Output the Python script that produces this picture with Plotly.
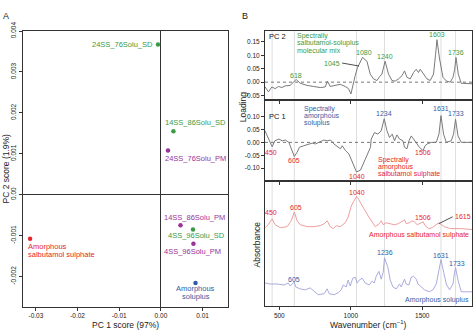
import plotly.graph_objects as go

# ---------------- Panel A data (PCA scores) ----------------
sample_names = ["24SS_76Solu_SD", "14SS_86Solu_SD", "24SS_76Solu_PM", "14SS_86Solu_PM",
                "4SS_96Solu_SD", "4SS_96Solu_PM", "Amorphous salbutamol sulphate", "Amorphous soluplus"]
pc1_scores = [-0.0007, 0.0030, 0.0017, 0.0047, 0.0077, 0.0078, -0.0314, 0.0083]
pc2_scores = [0.00367, 0.00155, 0.00108, -0.00075, -0.00085, -0.00120, -0.00108, -0.00216]
sample_groups = ["SD", "SD", "PM", "PM", "SD", "PM", "SS", "SOLU"]

# ---------------- Panel B data ----------------
pc2_wn = [401, 424, 448, 471, 494, 518, 541, 576, 599, 618, 646, 693, 739, 786, 821, 837, 856, 891, 926,
          961, 984, 1001, 1019, 1031, 1047, 1066, 1082, 1113, 1136, 1159, 1183, 1201, 1218, 1240, 1264,
          1288, 1311, 1334, 1358, 1376, 1393, 1416, 1439, 1458, 1474, 1486, 1509, 1533, 1556, 1579, 1593,
          1603, 1620, 1645, 1670, 1696, 1715, 1727, 1736, 1752, 1772, 1813, 1850]
pc2_load = [-0.018, -0.036, -0.018, -0.024, -0.016, -0.020, -0.014, -0.012, 0.000, 0.010, -0.004, -0.012,
            -0.016, -0.020, -0.018, 0.004, -0.016, -0.012, -0.008, -0.016, -0.024, -0.044, 0.000, 0.024,
            0.054, 0.072, 0.092, 0.078, 0.030, 0.012, 0.006, 0.020, 0.030, 0.078, 0.030, 0.006, 0.004,
            0.012, 0.024, 0.042, 0.018, 0.012, 0.036, 0.048, 0.036, 0.048, 0.030, 0.012, 0.006, 0.030,
            0.102, 0.158, 0.090, 0.018, 0.004, 0.000, 0.018, 0.048, 0.092, 0.030, -0.004, -0.006, -0.006]

pc1_wn = [400, 415, 431, 450, 469, 497, 520, 543, 567, 590, 605, 625, 641, 672, 707, 730, 753, 788, 812,
          835, 858, 882, 905, 928, 940, 963, 987, 1005, 1022, 1033, 1040, 1068, 1092, 1115, 1138, 1143,
          1166, 1190, 1213, 1234, 1253, 1271, 1290, 1306, 1323, 1341, 1365, 1376, 1393, 1407, 1423, 1439,
          1458, 1480, 1506, 1520, 1535, 1563, 1598, 1617, 1631, 1649, 1668, 1703, 1719, 1733, 1750, 1773,
          1808, 1850]
pc1_load = [0.045, 0.025, 0.006, -0.017, 0.006, 0.013, 0.006, 0.009, 0.000, -0.032, -0.055, -0.038,
            -0.019, -0.013, -0.006, -0.003, -0.006, 0.004, 0.009, 0.006, 0.009, -0.006, -0.017, -0.025,
            -0.013, -0.032, -0.045, -0.070, -0.089, -0.108, -0.115, -0.108, -0.076, -0.045, -0.019, 0.013,
            0.038, 0.032, 0.045, 0.092, 0.045, 0.019, 0.032, 0.006, 0.029, 0.013, 0.006, -0.019, -0.025,
            0.006, 0.025, 0.013, 0.000, -0.019, -0.032, -0.013, -0.006, 0.000, 0.000, 0.032, 0.104, 0.032,
            0.000, 0.006, 0.032, 0.090, 0.025, 0.000, 0.000, 0.000]

ss_wn = [401, 422, 450, 471, 506, 555, 583, 605, 625, 646, 695, 737, 786, 814, 835, 856, 877, 898, 926,
         961, 982, 1003, 1020, 1040, 1055, 1073, 1094, 1122, 1150, 1171, 1199, 1213, 1227, 1248, 1276,
         1304, 1332, 1353, 1376, 1388, 1409, 1430, 1444, 1465, 1506, 1520, 1545, 1570, 1598, 1615, 1654,
         1696, 1766, 1850]
ss_abs = [0.81, 0.84, 0.90, 0.84, 0.81, 0.82, 0.88, 0.97, 0.88, 0.84, 0.82, 0.82, 0.83, 0.85, 0.88,
          0.82, 0.80, 0.83, 0.82, 0.86, 0.92, 1.03, 1.08, 1.13, 1.10, 1.06, 1.00, 0.93, 0.86, 0.82, 0.85,
          0.88, 0.84, 0.86, 0.85, 0.84, 0.85, 0.87, 0.89, 0.85, 0.86, 0.88, 0.87, 0.84, 0.87, 0.83, 0.80,
          0.81, 0.84, 0.86, 0.82, 0.80, 0.80, 0.79]

solu_wn = [401, 436, 485, 534, 562, 576, 605, 615, 646, 681, 716, 737, 772, 814, 835, 849, 884, 912, 933,
           947, 968, 982, 996, 1014, 1031, 1045, 1059, 1080, 1101, 1129, 1150, 1164, 1178, 1197, 1213,
           1227, 1236, 1260, 1276, 1295, 1318, 1341, 1353, 1376, 1388, 1407, 1423, 1439, 1458, 1470, 1493,
           1516, 1549, 1575, 1598, 1618, 1631, 1650, 1668, 1691, 1715, 1726, 1733, 1750, 1773, 1808, 1850]
solu_abs = [0.24, 0.23, 0.23, 0.22, 0.24, 0.21, 0.25, 0.20, 0.18, 0.17, 0.19, 0.16, 0.12, 0.13, 0.18,
            0.13, 0.12, 0.14, 0.17, 0.22, 0.20, 0.27, 0.21, 0.29, 0.30, 0.24, 0.27, 0.29, 0.24, 0.22, 0.26,
            0.24, 0.31, 0.36, 0.28, 0.35, 0.50, 0.40, 0.27, 0.20, 0.18, 0.23, 0.20, 0.28, 0.23, 0.22, 0.30,
            0.31, 0.28, 0.23, 0.20, 0.17, 0.15, 0.17, 0.23, 0.37, 0.48, 0.35, 0.23, 0.17, 0.23, 0.35, 0.40,
            0.27, 0.15, 0.15, 0.15]

marker_wn = [450, 605, 1040, 1236, 1631, 1733]

# ---------------- styles ----------------
FONT = "Liberation Sans, Arial, sans-serif"
GREEN = "#3b9b45"
PURPLE = "#993399"
RED = "#e5262b"
BLUE = "#2e5ea8"
FRAME = "#333333"
group_color = {"SD": GREEN, "PM": PURPLE, "SS": RED, "SOLU": BLUE}

W, H = 474, 330
def px(x):
    return x / W
def py(y):
    return 1 - y / H

fig = go.Figure()

fig.add_trace(go.Scatter(
    x=pc1_scores, y=pc2_scores, mode="markers",
    marker=dict(size=4.5, color=[group_color[g] for g in sample_groups]),
    xaxis="x", yaxis="y", hoverinfo="text", text=sample_names, showlegend=False))

fig.add_trace(go.Scatter(x=pc2_wn, y=pc2_load, mode="lines", line=dict(color="#7a7a7a", width=1),
                         xaxis="x2", yaxis="y2", showlegend=False))
fig.add_trace(go.Scatter(x=pc1_wn, y=pc1_load, mode="lines", line=dict(color="#7a7a7a", width=1),
                         xaxis="x3", yaxis="y3", showlegend=False))
fig.add_trace(go.Scatter(x=ss_wn, y=ss_abs, mode="lines", line=dict(color="#ec9393", width=0.9),
                         xaxis="x4", yaxis="y4", showlegend=False))
fig.add_trace(go.Scatter(x=solu_wn, y=solu_abs, mode="lines", line=dict(color="#a2a2da", width=0.9),
                         xaxis="x4", yaxis="y4", showlegend=False))

axis_common = dict(showline=True, mirror=True, linecolor=FRAME, linewidth=1, showgrid=False,
                   ticks="outside", ticklen=3, tickcolor=FRAME,
                   tickfont=dict(family=FONT, size=6.5, color="#222"))

wn_range = [400, 1848]
domA_x = [px(23), px(228)]
domB_x = [px(265), px(472)]

fig.update_layout(
    width=W, height=H, margin=dict(l=0, r=0, t=0, b=0),
    paper_bgcolor="white", plot_bgcolor="white",
    font=dict(family=FONT),
    xaxis=dict(domain=domA_x, range=[-0.0331, 0.0161], anchor="y",
               tickvals=[-0.03, -0.02, -0.01, 0.0, 0.01],
               ticktext=["-0.03", "-0.02", "-0.01", "0.00", "0.01"],
               zeroline=True, zerolinecolor=FRAME, zerolinewidth=1, **axis_common),
    yaxis=dict(domain=[py(306), py(22.7)], range=[-0.00274, 0.004], anchor="x",
               tickvals=[-0.002, -0.001, 0.0, 0.001, 0.002, 0.003, 0.004],
               ticktext=["-0.002", "-0.001", "0.00", "0.001", "0.002", "0.003", "0.004"],
               tickangle=-90,
               zeroline=True, zerolinecolor=FRAME, zerolinewidth=1, **axis_common),
    xaxis2=dict(domain=domB_x, range=wn_range, anchor="y2", showticklabels=False, zeroline=False,
                tickvals=[500, 1000, 1500], **axis_common),
    yaxis2=dict(domain=[py(94), py(22.7)], range=[-0.068, 0.19], anchor="x2", zeroline=False,
                tickvals=[-0.05, 0.0, 0.05, 0.10, 0.15], ticktext=["-0.05", "0.00", "0.05", "0.10", "0.15"],
                **axis_common),
    xaxis3=dict(domain=domB_x, range=wn_range, anchor="y3", showticklabels=False, zeroline=False,
                tickvals=[500, 1000, 1500], **axis_common),
    yaxis3=dict(domain=[py(177.3), py(94)], range=[-0.152, 0.163], anchor="x3", zeroline=False,
                tickvals=[-0.10, -0.05, 0.0, 0.05, 0.10], ticktext=["-0.10", "-0.05", "0.00", "0.05", "0.10"],
                **axis_common),
    xaxis4=dict(domain=domB_x, range=wn_range, anchor="y4", zeroline=False,
                tickvals=[500, 1000, 1500], ticktext=["500", "1000", "1500"], **axis_common),
    yaxis4=dict(domain=[py(305.7), py(177.3)], range=[0.0, 1.285], anchor="x4", zeroline=False,
                showticklabels=False, ticks="", showline=True, mirror=True, linecolor=FRAME, linewidth=1,
                showgrid=False),
)

# vertical reference lines and dotted zero lines
shapes = []
for ax in ["2", "3", "4"]:
    for w in marker_wn:
        shapes.append(dict(type="line", xref="x" + ax, yref="y" + ax + " domain", x0=w, x1=w, y0=0, y1=1,
                           line=dict(color="#dedede", width=1), layer="below"))
for ax in ["2", "3"]:
    shapes.append(dict(type="line", xref="x" + ax + " domain", yref="y" + ax, x0=0, x1=1, y0=0, y1=0,
                       line=dict(color="#777777", width=1, dash="dot"), layer="below"))
fig.update_layout(shapes=shapes)

ann = []
def txt(text, x, y, xref, yref, color, size=7, xanchor="center", yanchor="middle", **kw):
    d = dict(text=text, x=x, y=y, xref=xref, yref=yref, showarrow=False,
             font=dict(family=FONT, size=size, color=color), xanchor=xanchor, yanchor=yanchor)
    d.update(kw)
    ann.append(d)

# Panel A labels
LS = 7.5
txt("24SS_76Solu_SD", -0.0015, 0.00367, "x", "y", GREEN, LS, xanchor="right")
txt("14SS_86Solu_SD", 0.0004, 0.00177, "x", "y", GREEN, LS, xanchor="left")
txt("24SS_76Solu_PM", 0.0004, 0.00088, "x", "y", PURPLE, LS, xanchor="left")
txt("14SS_86Solu_PM", 0.0002, -0.00055, "x", "y", PURPLE, LS, xanchor="left")
txt("4SS_96Solu_SD", 0.0012, -0.00101, "x", "y", GREEN, LS, xanchor="left")
txt("4SS_96Solu_PM", 0.0002, -0.00140, "x", "y", PURPLE, LS, xanchor="left")
txt("Amorphous", -0.0323, -0.00127, "x", "y", RED, LS, xanchor="left")
txt("salbutamol sulphate", -0.0323, -0.00147, "x", "y", RED, LS, xanchor="left")
txt("Amorphous", 0.0084, -0.00229, "x", "y", BLUE, LS)
txt("soluplus", 0.0084, -0.00249, "x", "y", BLUE, LS)

# axis titles
txt("PC 1 score (97%)", px(125), py(324.5), "paper", "paper", "#222", 8.5)
txt("PC 2 score (1.9%)", px(6), py(164), "paper", "paper", "#222", 8.5, textangle=-90)
txt("Wavenumber (cm<sup>−1</sup>)", px(368), py(324), "paper", "paper", "#222", 8.5)
txt("Loading", px(243), py(100), "paper", "paper", "#222", 8.5, textangle=-90)
txt("Absorbance", px(257), py(242), "paper", "paper", "#222", 8.5, textangle=-90)
txt("A", px(1), 1.0, "paper", "paper", "#222", 9, xanchor="left", yanchor="top")
txt("B", px(240), 1.0, "paper", "paper", "#222", 9, xanchor="left", yanchor="top")

# PC2 panel
txt("PC 2", px(267), py(28.5), "paper", "paper", "#111", 7.5, xanchor="left")
txt("Spectrally", px(295), py(27.7), "paper", "paper", GREEN, 7, xanchor="left")
txt("salbutamol-soluplus", px(295), py(35.2), "paper", "paper", GREEN, 7, xanchor="left")
txt("molecular mix", px(295), py(42.7), "paper", "paper", GREEN, 7, xanchor="left")
txt("618", 618, 0.026, "x2", "y2", GREEN)
txt("1080", 1090, 0.112, "x2", "y2", GREEN)
txt("1240", 1240, 0.095, "x2", "y2", GREEN)
txt("1603", 1603, 0.176, "x2", "y2", GREEN)
txt("1736", 1736, 0.112, "x2", "y2", GREEN)
ann.append(dict(text="1045", x=1058, y=0.060, xref="x2", yref="y2", showarrow=True, arrowhead=0,
                arrowwidth=0.8, arrowcolor="#222", ax=-17, ay=-3, xanchor="right",
                font=dict(family=FONT, size=7, color=GREEN)))

# PC1 panel
txt("PC 1", px(267), py(111), "paper", "paper", "#111", 7.5, xanchor="left")
txt("Spectrally", px(302), py(102.5), "paper", "paper", BLUE, 7, xanchor="left")
txt("amorphous", px(302), py(110), "paper", "paper", BLUE, 7, xanchor="left")
txt("soluplus", px(302), py(117.5), "paper", "paper", BLUE, 7, xanchor="left")
txt("1234", 1234, 0.113, "x3", "y3", BLUE)
txt("1631", 1631, 0.130, "x3", "y3", BLUE)
txt("1733", 1738, 0.111, "x3", "y3", BLUE)
txt("450", 445, -0.039, "x3", "y3", RED)
txt("605", 605, -0.072, "x3", "y3", RED)
txt("1040", 1045, -0.131, "x3", "y3", RED)
txt("1506", 1506, -0.039, "x3", "y3", RED)
txt("Spectrally", px(376), py(155), "paper", "paper", RED, 7, xanchor="left")
txt("amorphous", px(376), py(162.5), "paper", "paper", RED, 7, xanchor="left")
txt("salbutamol sulphate", px(376), py(170), "paper", "paper", RED, 7, xanchor="left")

# Absorbance panel
txt("450", 445, 0.965, "x4", "y4", RED)
txt("605", 620, 1.02, "x4", "y4", RED)
txt("1040", 1045, 1.17, "x4", "y4", RED)
txt("1506", 1506, 0.915, "x4", "y4", RED)
ann.append(dict(text="1615", x=1615, y=0.85, xref="x4", yref="y4", showarrow=True, arrowhead=0,
                arrowwidth=0.8, arrowcolor="#222", ax=14, ay=-7, xanchor="left",
                font=dict(family=FONT, size=7, color=RED)))
txt("Amorphous salbutamol sulphate", 1838, 0.735, "x4", "y4", RED, 7, xanchor="right")
txt("605", 605, 0.28, "x4", "y4", BLUE)
txt("1236", 1236, 0.55, "x4", "y4", BLUE)
txt("1631", 1631, 0.525, "x4", "y4", BLUE)
txt("1733", 1740, 0.44, "x4", "y4", BLUE)
txt("Amorphous soluplus", 1838, 0.065, "x4", "y4", BLUE, 7, xanchor="right")

fig.update_layout(annotations=ann)

fig.write_html("out.html")
